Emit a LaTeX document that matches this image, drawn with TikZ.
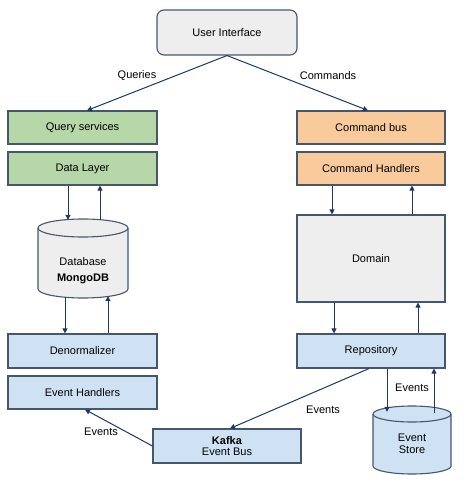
\documentclass[tikz,border=0pt]{standalone}
\usepackage{fontspec}
\setmainfont{Liberation Sans}
\usetikzlibrary{arrows.meta}
\definecolor{bordc}{RGB}{72,86,108}
\definecolor{arrc}{RGB}{30,56,96}
\definecolor{grayf}{RGB}{238,238,238}
\definecolor{greenf}{RGB}{182,215,168}
\definecolor{orangef}{RGB}{249,203,156}
\definecolor{bluef}{RGB}{207,226,243}
\tikzset{
  box/.style={draw=bordc, line width=1.1pt, rectangle, minimum width=149pt, minimum height=33pt, inner sep=0pt, font=\fontsize{11}{13}\selectfont},
  greenbox/.style={box, fill=greenf},
  orangebox/.style={box, fill=orangef},
  bluebox/.style={box, fill=bluef},
  graybox/.style={box, fill=grayf},
  arr/.style={draw=arrc, line width=1pt, -{Triangle[length=5pt,width=5pt]}},
  lbl/.style={font=\fontsize{11}{13}\selectfont, inner sep=0pt},
  cyl/.style={draw=bordc, line width=1.1pt},
}
\begin{document}
\begin{tikzpicture}[x=1pt,y=1pt]
\useasboundingbox (0,0) rectangle (474,-486);
% nodes
\node[graybox, rounded corners=7pt, minimum width=140pt, minimum height=45pt] (ui) at (227,-32.5) {User Interface};
\node[greenbox] (qs) at (82.5,-127.5) {Query services};
\node[greenbox] (dl) at (82.5,-168.5) {Data Layer};
\node[orangebox, minimum width=148pt] (cb) at (371,-127.5) {Command bus};
\node[orangebox, minimum width=148pt] (ch) at (371,-168.5) {Command Handlers};
\node[graybox, minimum width=148pt, minimum height=87pt] (dom) at (371,-258.5) {Domain};
\node[bluebox, minimum height=34pt] (den) at (82.5,-351) {Denormalizer};
\node[bluebox] (eh) at (82.5,-392.5) {Event Handlers};
\node[bluebox, minimum width=148pt, minimum height=34pt] (repo) at (371,-351) {Repository};
\node[bluebox, minimum width=148pt, minimum height=34pt, align=center, font=\fontsize{11}{10.5}\selectfont] (kafka) at (227,-446) {\textbf{Kafka}\\Event Bus};
% database cylinder
\fill[grayf] (38,-228) -- (38,-289) arc[start angle=180,end angle=360,x radius=45,y radius=9] -- (128,-228) arc[start angle=0,end angle=180,x radius=45,y radius=9] -- cycle;
\draw[cyl] (38,-228) -- (38,-289) arc[start angle=180,end angle=360,x radius=45,y radius=9] -- (128,-228) arc[start angle=0,end angle=180,x radius=45,y radius=9] -- cycle;
\draw[cyl] (38,-228) arc[start angle=180,end angle=360,x radius=45,y radius=9];
\node[minimum width=90pt, minimum height=79pt, inner sep=0pt] (db) at (83,-258.5) {};
\node[lbl, align=center, font=\fontsize{11}{16}\selectfont] (dbtext) at (83,-271) {Database\\\textbf{MongoDB}};
% event store cylinder
\fill[bluef] (373,-414) -- (373,-466) arc[start angle=180,end angle=360,x radius=39,y radius=8] -- (451,-414) arc[start angle=0,end angle=180,x radius=39,y radius=8] -- cycle;
\draw[cyl] (373,-414) -- (373,-466) arc[start angle=180,end angle=360,x radius=39,y radius=8] -- (451,-414) arc[start angle=0,end angle=180,x radius=39,y radius=8] -- cycle;
\draw[cyl] (373,-414) arc[start angle=180,end angle=360,x radius=39,y radius=8];
\node[minimum width=78pt, minimum height=68pt, inner sep=0pt] (es) at (412,-440) {};
\node[lbl, align=center, font=\fontsize{11}{12.5}\selectfont] (estext) at (412,-444) {Event\\Store};
% connectors
\draw[arr] (ui.south) -- ([xshift=4.5pt]qs.north);
\draw[arr] (ui.south) -- ([xshift=-3pt]cb.north);
\node[lbl] (lq) at (137,-76) {Queries};
\node[lbl] (lc) at (328,-76) {Commands};
\draw[arr] ([xshift=-14.5pt]dl.south) -- ([xshift=-15pt,yshift=-1pt]db.north);
\draw[arr] ([xshift=17pt,yshift=-1pt]db.north) -- ([xshift=17.5pt]dl.south);
\draw[arr] ([xshift=-18pt,yshift=1pt]db.south) -- ([xshift=-17.5pt]den.north);
\draw[arr] ([xshift=25.5pt]den.north) -- ([xshift=25pt,yshift=2pt]db.south);
\draw[arr] ([xshift=-39pt]ch.south) -- ([xshift=-39pt]dom.north);
\draw[arr] ([xshift=41pt]dom.north) -- ([xshift=41pt]ch.south);
\draw[arr] ([xshift=-37pt]dom.south) -- ([xshift=-37pt]repo.north);
\draw[arr] ([xshift=47pt]repo.north) -- ([xshift=47pt]dom.south);
\draw[arr] ([xshift=-2pt]repo.south) -- ([xshift=3pt]kafka.north);
\node[lbl] (le1) at (323,-410) {Events};
\draw[arr] (kafka.west) -- ([xshift=2.5pt]eh.south);
\node[lbl] (le2) at (101,-432) {Events};
\draw[arr] ([xshift=16pt]repo.south) -- ([xshift=-25pt,yshift=-6pt]es.north);
\draw[arr] ([xshift=22pt,yshift=-7pt]es.north) -- ([xshift=63pt]repo.south);
\node[lbl] (le3) at (412,-388) {Events};
\end{tikzpicture}
\end{document}
